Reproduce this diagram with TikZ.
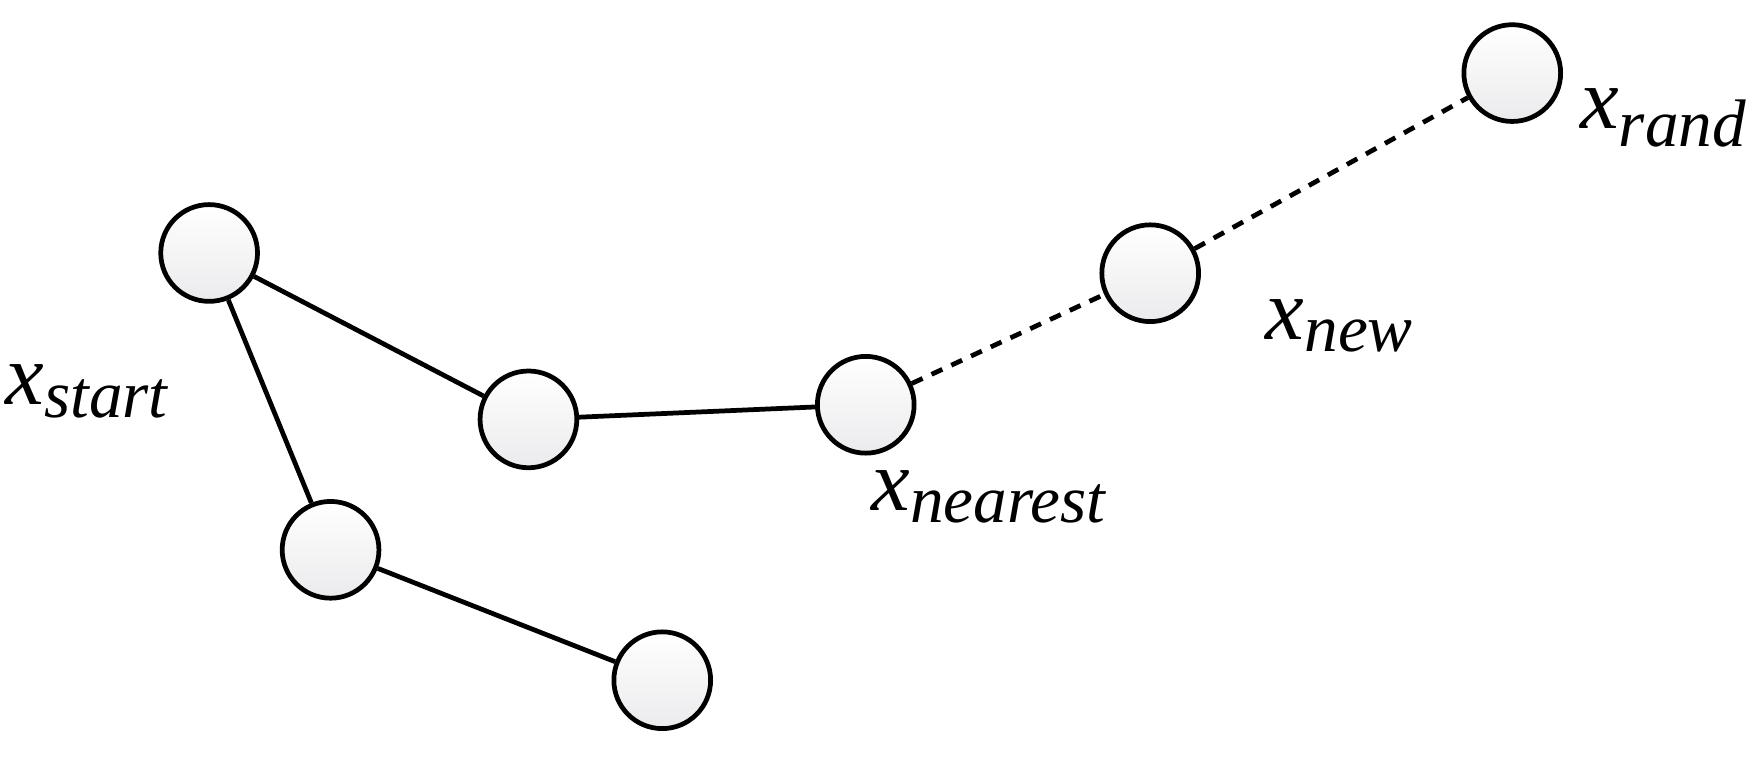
\documentclass[tikz,border=0pt]{standalone}
\usepackage{fontspec}
\setmainfont{Liberation Serif}
\begin{document}
\begin{tikzpicture}[x=0.01cm,y=-0.01cm,
  vtx/.style={circle,draw,line width=1.2pt,minimum size=0.86cm,inner sep=0pt,top color=white,bottom color=blue!6!gray!15},
  edge/.style={line width=1.2pt},
  dedge/.style={line width=1.2pt,dash pattern=on 3pt off 2.5pt},
  lab/.style={font=\fontsize{22}{24}\selectfont\itshape,inner sep=0pt}]
\useasboundingbox (0,0) rectangle (1568,679);
\node[vtx] (A) at (186,225) {};
\node[vtx] (B) at (470,373) {};
\node[vtx] (C) at (770,360) {};
\node[vtx] (D) at (1023,243) {};
\node[vtx] (E) at (1345,65) {};
\node[vtx] (F) at (294,489) {};
\node[vtx] (G) at (589,605) {};
\draw[edge] (A) -- (B);
\draw[edge] (A) -- (F);
\draw[edge] (B) -- (C);
\draw[edge] (F) -- (G);
\draw[dedge] (C) -- (D);
\draw[dedge] (D) -- (E);
\node[lab] (ls) at (78,348) {x\textsubscript{\fontsize{17}{18}\selectfont start}};
\node[lab] (ln) at (880,442) {x\textsubscript{\fontsize{17}{18}\selectfont nearest}};
\node[lab] (lw) at (1192,290) {x\textsubscript{\fontsize{17}{18}\selectfont new}};
\node[lab] (lr) at (1480,105) {x\textsubscript{\fontsize{17}{18}\selectfont rand}};
\end{tikzpicture}
\end{document}
